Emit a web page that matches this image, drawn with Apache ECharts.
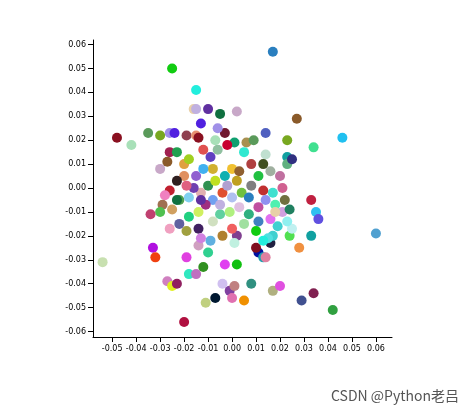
<!DOCTYPE html>
<html>
<head>
<meta charset="UTF-8">
<script src="https://cdn.jsdelivr.net/npm/echarts@6/dist/echarts.min.js"></script>
<style>html,body{margin:0;padding:0;background:#fff}#c{width:474px;height:413px}</style>
</head>
<body>
<div id="c"></div>
<script>
// point values
var xs = [0.017,-0.025,-0.015,-0.016,-0.015,-0.010,-0.005,0.002,0.027,-0.048,-0.042,-0.035,-0.030,-0.026,-0.024,-0.019,-0.015,-0.003,0.001,-0.002,0.014,0.006,0.046,0.034,0.023,0.014,0.005,-0.026,
  -0.054,-0.033,-0.032,-0.027,-0.025,-0.023,-0.020,-0.011,-0.007,-0.004,-0.001,0.000,0.001,-0.018,-0.015,-0.012,-0.019,-0.010,-0.003,0.002,-0.014,
  0.033,0.035,0.036,0.033,0.028,0.060,0.008,0.005,0.017,0.020,0.029,0.034,0.042,0.011,0.013,0.014,0.010,0.016,0.017,0.015,0.024,0.025,0.023,0.021,0.019,0.002,0.001,
  -0.023,-0.020,-0.018,-0.012,-0.009,-0.006,-0.008,-0.012,-0.015,-0.020,-0.023,-0.026,-0.028,-0.029,-0.030,-0.034,-0.025,-0.022,-0.018,-0.013,-0.010,-0.007,-0.003,0.000,0.003,0.008,0.011,0.013,0.016,0.020,0.023,0.025,
  0.021,0.017,0.013,0.008,0.004,0.000,-0.004,-0.008,-0.011,-0.014,-0.018,-0.022,-0.026,-0.019,-0.014,-0.008,-0.005,-0.001,0.003,0.007,0.011,0.014,0.018,0.022,0.024,0.016,0.011,0.005,0.000,-0.004,-0.009,-0.013,
  -0.016,-0.019,-0.002,0.002,0.007,0.010,0.013,0.018,-0.005,-0.013,-0.023,-0.030,-0.027,-0.014,-0.007,0.009,0.023,-0.006,-0.013];
var ys = [0.057,0.050,0.041,0.033,0.033,0.033,0.031,0.032,0.029,0.021,0.018,0.023,0.022,0.023,0.023,0.022,0.022,0.023,0.019,0.018,0.023,0.019,0.021,0.017,0.013,0.014,0.015,0.015,
  -0.031,-0.025,-0.029,-0.039,-0.041,-0.040,-0.056,-0.048,-0.046,-0.040,-0.043,-0.046,-0.041,-0.036,-0.036,-0.033,-0.029,-0.027,-0.032,-0.032,-0.024,
  -0.005,-0.010,-0.013,-0.020,-0.025,-0.019,-0.040,-0.047,-0.043,-0.041,-0.047,-0.044,-0.051,-0.027,-0.029,-0.029,-0.025,-0.023,-0.020,-0.021,-0.020,-0.017,-0.014,-0.010,-0.016,-0.020,-0.023,
  0.015,0.010,0.012,0.016,0.013,0.016,0.008,0.008,0.005,0.005,0.003,-0.001,-0.003,-0.007,-0.010,-0.011,-0.009,-0.005,-0.004,-0.002,0.001,0.003,0.005,0.008,0.007,0.010,0.005,0.010,0.007,0.005,0.010,0.012,
  0.000,-0.002,-0.001,0.001,-0.002,-0.004,-0.002,-0.005,-0.007,-0.010,-0.012,-0.015,-0.017,-0.018,-0.017,-0.014,-0.011,-0.010,-0.008,-0.011,-0.008,-0.005,-0.007,-0.005,-0.009,-0.013,-0.014,-0.015,-0.017,-0.020,-0.022,-0.021,
  0.000,0.001,0.001,0.003,-0.004,-0.018,-0.022,-0.010,-0.007,-0.005,-0.005,0.008,0.011,0.021,0.020,0.020,0.020,0.025,0.027];
var palette = ['#2a7fbf','#11cc11','#22eedd','#e8d0a8','#c0b0e0','#6030a0','#107040','#c8a8c8','#8a5a2a','#8a1020','#a8e0b8','#5a9a5a','#78a820','#a090e8','#5020e0','#904050','#e89070','#701830','#10a070','#c80030','#5060c0','#a89050','#20c0f0','#40e090','#10a0a0','#c0e0d0','#30e8d0','#a02050',
  '#c8e0b0','#b010e0','#f04010','#d080c0','#e0f020','#902060','#b01040','#c0d080','#001830','#d0c0f0','#8040a0','#e070b0','#c08080','#30e8c0','#c070c0','#309020','#e040e0','#30d090','#e040f0','#10c010','#d0a0c0',
  '#c02040','#30c0f0','#6050e0','#10a0a0','#f09040','#50a0d0','#309080','#f09000','#b0b080','#e050e0','#405090','#802050','#30a040','#0010a0','#20a0b0','#e080a0','#801020','#202040','#40d0d0','#50e0e0','#50e050','#c0f0f0','#90f0f0','#d0a0e0','#40d0d0','#804090','#c0f0e0',
  '#20a050','#e0a040','#a0d020','#e05050','#6040c0','#90c0a0','#d0b030','#40b0f0','#9060d0','#e09060','#302020','#c02030','#f080c0','#a07050','#50c050','#c04070','#d0a060','#50a050','#80d0f0','#e0b0b0','#309050','#c0e020','#10b0b0','#f0c030','#906030','#b04040',
  '#20c040','#405020','#a0b0a0','#c070a0','#60b080','#303080','#d06090','#40e0d0','#c03030','#808080','#70c040','#b0c0f0','#e05030','#70a0f0','#a03080','#d0f060','#20d080','#6060a0','#f0a0c0','#a0a040','#402060','#d0e0c0','#60d0a0','#b0f080','#e0c0e0','#30b080',
  '#c050a0','#9090f0','#50f0b0','#707040','#208060','#e070f0','#4080c0','#a0e0a0','#f06060','#b08030','#60b0e0','#d080e0','#7040b0','#e06080','#b0a0d0','#c0a020'];
var xTicks = [-0.05,-0.04,-0.03,-0.02,-0.01,0,0.01,0.02,0.03,0.04,0.05,0.06];
var yTicks = [-0.06,-0.05,-0.04,-0.03,-0.02,-0.01,0,0.01,0.02,0.03,0.04,0.05,0.06];

var pts = [];
for (var i = 0; i < xs.length; i++) pts.push([xs[i], ys[i]]);

var fmt = function (v) { return v.toFixed(2); };
var axisCommon = {
  axisLine: {onZero: false, lineStyle: {color: '#000', width: 1}},
  axisTick: {show: true, length: 5, lineStyle: {color: '#000'}},
  axisLabel: {color: '#000', fontSize: 8, fontFamily: 'DejaVu Sans', formatter: fmt},
  splitLine: {show: false}
};
var chart = echarts.init(document.getElementById('c'));
chart.setOption({
  animation: false,
  grid: {left: 93, top: 40, width: 299, height: 297},
  graphic: [{type: 'text', left: 331, top: 389, style: {text: 'CSDN @Python老吕', fill: '#555', fontSize: 14, fontFamily: 'Noto Sans CJK SC'}}],
  xAxis: echarts.util.merge({type: 'value', min: -0.058, max: 0.0667,
    axisTick: {customValues: xTicks}, axisLabel: {customValues: xTicks, margin: 8}}, axisCommon),
  yAxis: echarts.util.merge({type: 'value', min: -0.0623, max: 0.0619,
    axisTick: {customValues: yTicks}, axisLabel: {customValues: yTicks, margin: 7}}, axisCommon),
  series: [{
    type: 'scatter', symbolSize: 10, data: pts,
    itemStyle: {opacity: 1, color: function (p) { return palette[p.dataIndex % palette.length]; }}
  }]
});
</script>
</body>
</html>
